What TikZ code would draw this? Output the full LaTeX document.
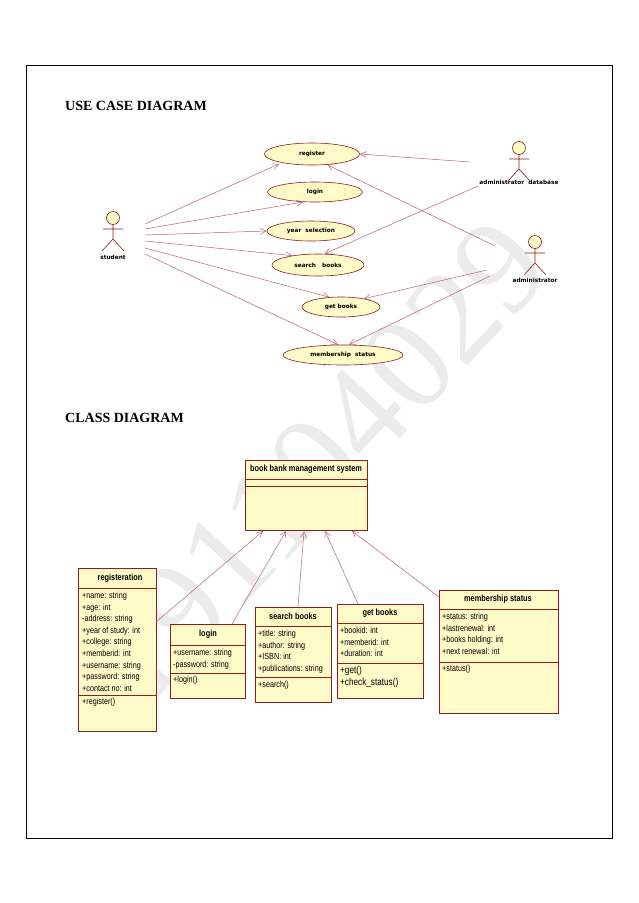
\documentclass[tikz,border=0pt]{standalone}
\usepackage{fontspec}
\setmainfont{Liberation Serif}
\newfontfamily\ucf{DejaVu Sans}
\newfontfamily\clsf[FakeStretch=0.82]{Liberation Sans}
\usetikzlibrary{arrows.meta,shapes.geometric}
\definecolor{fillY}{RGB}{255,250,200}
\definecolor{bord}{RGB}{140,30,30}
\definecolor{lnk}{RGB}{180,100,115}
\tikzset{
 uc/.style={ellipse,draw=bord,fill=fillY,line width=0.6pt,inner sep=0pt,font=\ucf\bfseries\fontsize{5.8}{6}\selectfont},
 lk/.style={draw=lnk,line width=0.5pt,-{Straight Barb[length=6pt,width=6pt]}},
 box/.style={draw=bord,fill=fillY,line width=0.9pt},
 sep/.style={draw=bord,line width=0.9pt},
 ttl/.style={font=\clsf\bfseries\fontsize{9}{10}\selectfont,inner sep=0pt},
 att/.style={font=\clsf\fontsize{8.8}{11.6}\selectfont,align=left,anchor=north west,inner sep=0pt},
 actor/.style={draw=bord,line width=0.6pt},
 alab/.style={font=\ucf\bfseries\fontsize{5.8}{6}\selectfont,inner sep=0pt},
 head/.style={font=\bfseries\fontsize{14}{16}\selectfont,anchor=west,inner sep=0pt}
}
\begin{document}
\begin{tikzpicture}[x=1pt,y=-1pt]
\useasboundingbox (0,0) rectangle (638,903);
\fill[white] (0,0) rectangle (638,903);
\node[text=gray!16,font=\fontsize{135}{135}\selectfont,rotate=47,inner sep=0pt] (wm) at (318,462) {191104029};
\draw[line width=0.8pt] (26,65) rectangle (612,838);
\node[head] (h1) at (65,106) {USE CASE DIAGRAM};
\node[head] (h2) at (65,418) {CLASS DIAGRAM};
% use cases
\node[uc,minimum width=95,minimum height=22] (reg) at (312,154) {register};
\node[uc,minimum width=95,minimum height=20] (log) at (315,192) {login};
\node[uc,minimum width=88,minimum height=20] (yr) at (311,231) {year\ \ selection};
\node[uc,minimum width=92,minimum height=22] (sb) at (318,265) {search\ \ \ books};
\node[uc,minimum width=78,minimum height=20] (gb) at (341,307) {get books};
\node[uc,minimum width=120,minimum height=20] (ms) at (343,355) {membership\ \ status};
% actors
\newcommand{\actorfig}[3]{%
 \draw[actor,fill=fillY] (#1,#2) circle (6.5);
 \draw[actor] (#1,#2+6.5) -- (#1,#2+21) (#1-10,#2+11) -- (#1+10,#2+11)
   (#1-11,#2+33) -- (#1,#2+21) -- (#1+11,#2+33);
 \coordinate (#3) at (#1,#2);}
\actorfig{113}{218}{stu}
\node[alab] (stul) at (113,257) {student};
\actorfig{519}{148}{adb}
\node[alab] (adbl) at (519,182) {administrator\ \ database};
\actorfig{535}{242}{adm}
\node[alab] (adml) at (535,280) {administrator};
\coordinate (s1) at (145,224); \coordinate (s2) at (145,229);
\coordinate (s3) at (145,235); \coordinate (s4) at (145,241);
\coordinate (s5) at (145,248); \coordinate (s6) at (145,254);
\draw[lk] (s1) -- (279,164);
\draw[lk] (s2) -- (log.220);
\draw[lk] (s3) -- (yr.west);
\draw[lk] (s4) -- (sb.160);
\draw[lk] (s5) -- (gb.140);
\draw[lk] (s6) -- (ms.115);
\coordinate (d1) at (470,162); \coordinate (d2) at (478,186);
\draw[lk] (d1) -- (reg.east);
\draw[lk] (d2) -- (sb.60);
\coordinate (a1) at (495,246); \coordinate (a2) at (487,270); \coordinate (a3) at (490,276);
\draw[lk] (a1) -- (reg.-35);
\draw[lk] (a2) -- (gb.20);
\draw[lk] (a3) -- (ms.60);
% classes
\node[box,minimum width=122,minimum height=70,anchor=north west,inner sep=0] (bb) at (245,460) {};
\draw[sep] (245,479) -- (367,479) (245,486) -- (367,486);
\node[ttl] (bbt) at (306,469.5) {book bank management system};

\node[box,minimum width=78,minimum height=163,anchor=north west,inner sep=0] (rg) at (78,568) {};
\draw[sep] (78,588) -- (156,588) (78,695) -- (156,695);
\node[ttl] (rgt) at (120,578) {registeration};
\node[att] (rga) at (82,592) {+name: string\\+age: int\\-address: string\\+year of study: int\\+college: string\\+memberid: int\\+username: string\\+password: string\\+contact no: int};
\node[att] (rgm) at (82,698) {+register()};

\node[box,minimum width=75,minimum height=74,anchor=north west,inner sep=0] (lg) at (170,624) {};
\draw[sep] (170,645) -- (245,645) (170,673) -- (245,673);
\node[ttl] (lgt) at (208,634.5) {login};
\node[att] (lga) at (173,649) {+username: string\\-password: string};
\node[att] (lgm) at (173,676) {+login()};

\node[box,minimum width=76,minimum height=95,anchor=north west,inner sep=0] (sc) at (255,607) {};
\draw[sep] (255,626) -- (331,626) (255,677) -- (331,677);
\node[ttl] (sct) at (293,616.5) {search books};
\node[att] (sca) at (258,630) {+title: string\\+author: string\\+ISBN: int\\+publications: string};
\node[att] (scm) at (258,681) {+search()};

\node[box,minimum width=86,minimum height=94,anchor=north west,inner sep=0] (gt) at (337,604) {};
\draw[sep] (337,623) -- (423,623) (337,663) -- (423,663);
\node[ttl] (gtt) at (380,613.5) {get books};
\node[att] (gta) at (340,627) {+bookid: int\\+memberid: int\\+duration: int};
\node[att,font=\clsf\fontsize{10}{11.6}\selectfont] (gtm) at (340,666) {+get()\\+check\_status()};

\node[box,minimum width=119,minimum height=123,anchor=north west,inner sep=0] (mb) at (439,590) {};
\draw[sep] (439,609) -- (558,609) (439,662) -- (558,662);
\node[ttl] (mbt) at (498,599.5) {membership status};
\node[att] (mba) at (442,613) {+status: string\\+lastrenewal: int\\+books holding: int\\+next renewal: int};
\node[att] (mbm) at (442,665) {+status()};

\coordinate (c1) at (156,622); \coordinate (c2) at (232,624); \coordinate (c3) at (298,607);
\coordinate (c4) at (358,604); \coordinate (c5) at (439,597);
\draw[lk] (c1) -- (263,531);
\draw[lk] (c2) -- (286,531);
\draw[lk] (c3) -- (304,531);
\draw[lk] (c4) -- (325,531);
\draw[lk] (c5) -- (352,531);
\end{tikzpicture}
\end{document}
